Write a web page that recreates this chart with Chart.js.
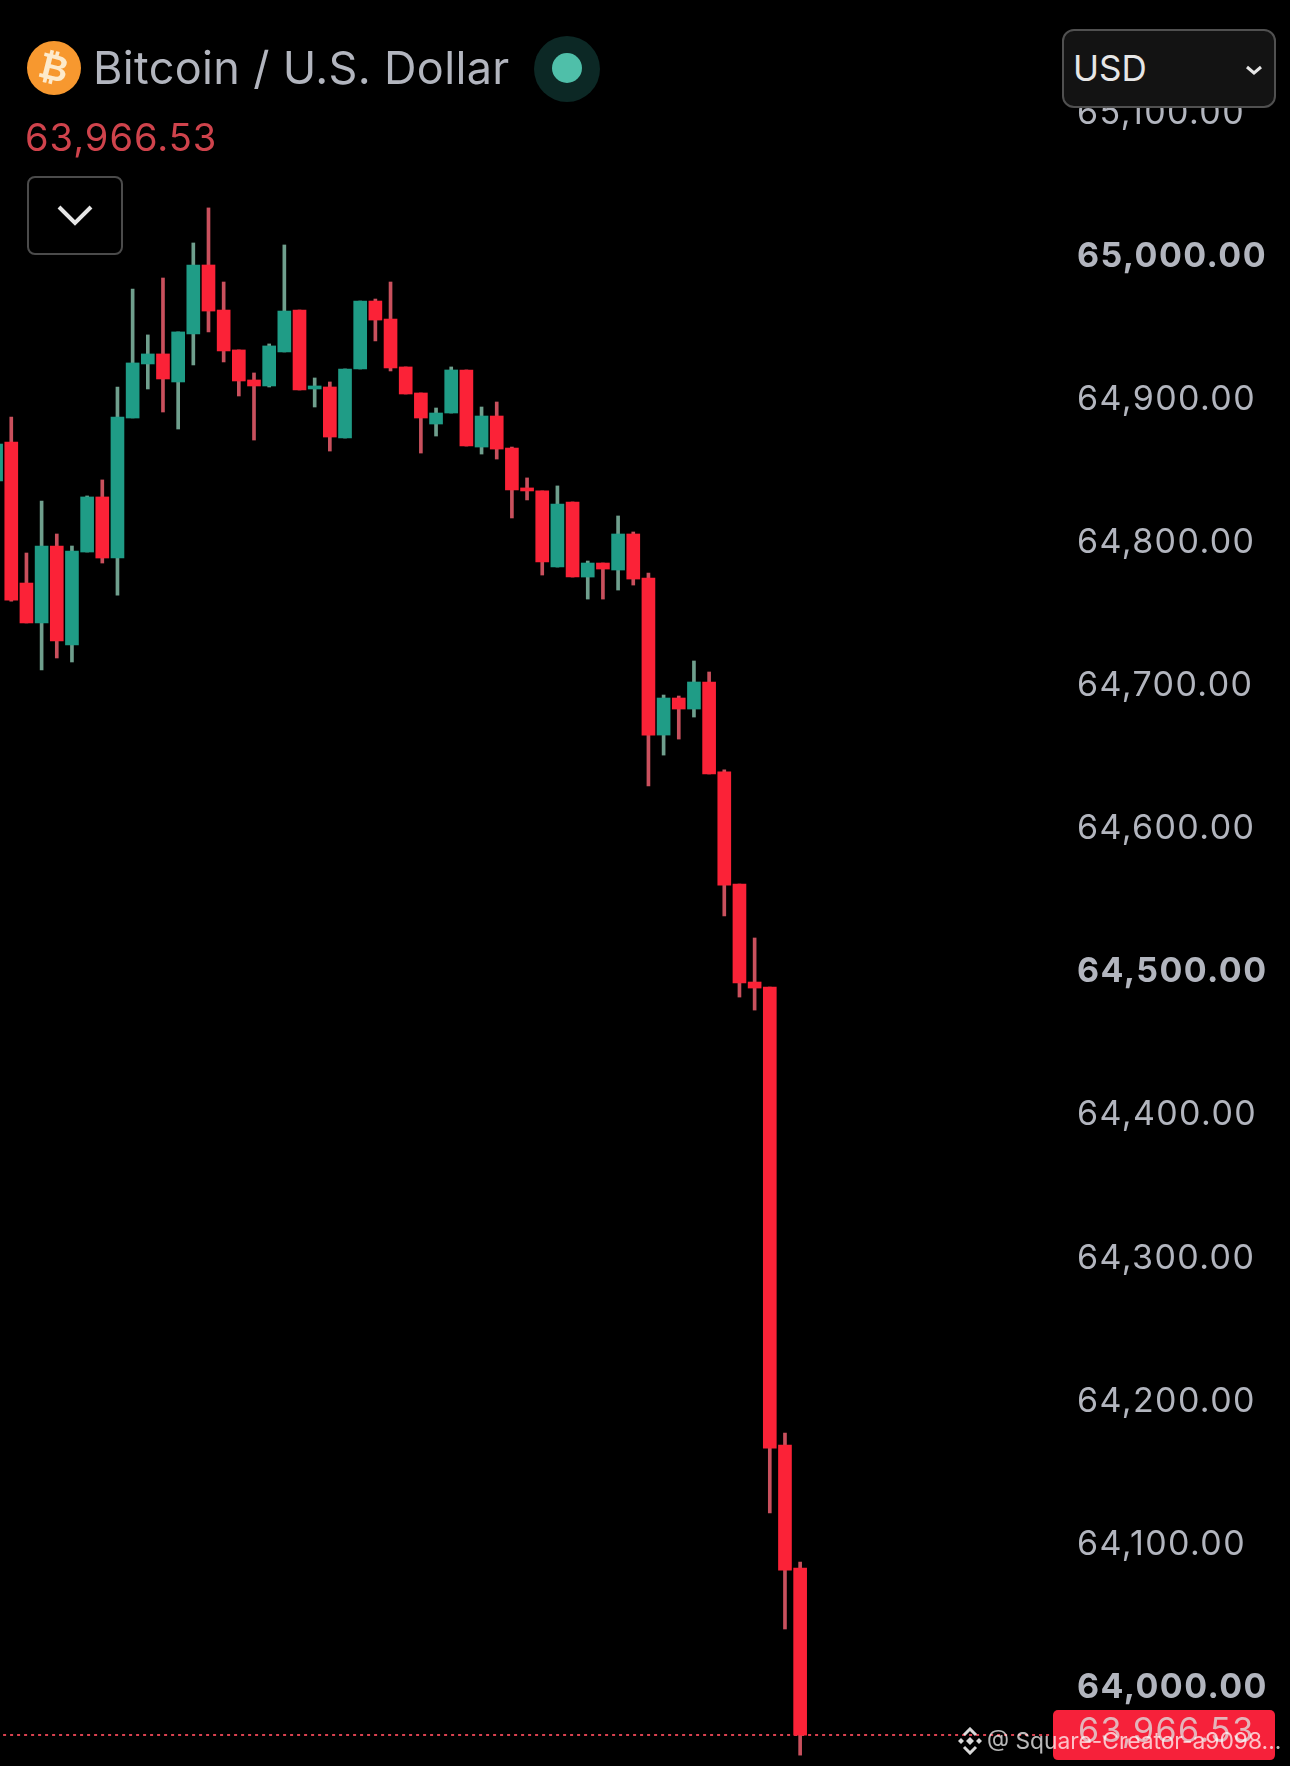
<!DOCTYPE html>
<html>
<head>
<meta charset="utf-8">
<title>Bitcoin / U.S. Dollar</title>
<script src="https://cdn.jsdelivr.net/npm/chart.js@4/dist/chart.umd.min.js"></script>
<style>
  html, body { margin: 0; padding: 0; background: #000; }
  #wrap { position: relative; width: 1290px; height: 1766px; overflow: hidden; background: #000; font-family: Inter, sans-serif; }
  canvas { position: absolute; left: 0; top: 0; }
  .abs { position: absolute; white-space: nowrap; }
  #coin { left: 27px; top: 41px; width: 54px; height: 54px; border-radius: 50%; background: #f7982f; color: #fdeacb; font: bold 36px/54px "DejaVu Sans", sans-serif; text-align: center; }
  #coin span { display: inline-block; transform: rotate(14deg); }
  #title { left: 93px; top: 41px; font-size: 45px; line-height: 54px; letter-spacing: .35px; color: #b2b5be; }
  #dotOuter { left: 534px; top: 36px; width: 66px; height: 66px; border-radius: 50%; background: #0c2825; }
  #dotInner { left: 552px; top: 53px; width: 30px; height: 30px; border-radius: 50%; background: #4fbfa9; }
  #lastPrice { left: 25px; top: 114px; font-size: 38px; line-height: 46px; letter-spacing: 1px; color: #cf434c; }
  #toggle { left: 27px; top: 176px; width: 92px; height: 75px; border: 2px solid #4b4b4b; border-radius: 8px; background: #000; }
  #currency { left: 1062px; top: 29px; width: 210px; height: 75px; border: 2px solid #505050; border-radius: 12px; background: #131313; }
  #currency b { position: absolute; left: 9px; top: 14px; font-weight: 400; font-size: 35px; line-height: 46px; color: #e6e6e6; }
  #currency svg { position: absolute; left: 181px; top: 34px; }
  #mark { left: 956px; top: 1727px; }
  #mark span { position: absolute; left: 31px; top: 0; font-size: 22.8px; line-height: 28px; color: rgba(255, 255, 255, .72); }
</style>
</head>
<body>
<div id="wrap">
  <canvas id="myChart" width="1290" height="1766"></canvas>
  <div class="abs" id="coin"><span>₿</span></div>
  <div class="abs" id="title">Bitcoin / U.S. Dollar</div>
  <div class="abs" id="dotOuter"></div>
  <div class="abs" id="dotInner"></div>
  <div class="abs" id="lastPrice">63,966.53</div>
  <div class="abs" id="toggle">
    <svg width="92" height="75"><polyline points="30,29 46,45 62,29" fill="none" stroke="#e6e6e6" stroke-width="4"/></svg>
  </div>
  <div class="abs" id="currency">
    <b>USD</b>
    <svg width="18" height="12"><polyline points="2,2 9,8 16,2" fill="none" stroke="#e6e6e6" stroke-width="3"/></svg>
  </div>
  <div class="abs" id="mark">
    <svg width="28" height="28" viewBox="0 0 28 28" fill="none" stroke="rgba(255,255,255,.85)" stroke-width="3">
      <path d="M8 8l6-6 6 6"/>
      <path d="M8 20l6 6 6-6"/>
      <path d="M5 11l3 3-3 3-3-3z" fill="rgba(255,255,255,.85)" stroke="none"/>
      <path d="M23 11l3 3-3 3-3-3z" fill="rgba(255,255,255,.85)" stroke="none"/>
      <path d="M14 10l4 4-4 4-4-4z" fill="rgba(255,255,255,.85)" stroke="none"/>
    </svg>
    <span>@ Square-Creator-a9098...</span>
  </div>
</div>

<script>
// candles, oldest first, first one is cut off by the left edge
const opens = [64842.0, 64869.2, 64770.6, 64742.7, 64796.5, 64727.3, 64792.3, 64830.8, 64788.1, 64886.0,
  64923.8, 64930.8, 64911.2, 64944.8, 64993.0, 64961.5, 64933.6, 64912.6, 64908.4, 64932.2,
  64961.5, 64906.3, 64907.7, 64872.0, 64920.3, 64967.8, 64955.2, 64921.7, 64903.5, 64881.8,
  64889.5, 64919.6, 64865.7, 64887.4, 64865.0, 64837.1, 64835.0, 64781.8, 64827.3, 64774.8,
  64784.6, 64779.7, 64804.9, 64774.1, 64664.3, 64690.2, 64682.5, 64701.4, 64638.5, 64560.1,
  64491.6, 64488.1, 64167.8, 64081.8];
const closes = [64867.8, 64758.7, 64742.7, 64796.5, 64730.1, 64793.0, 64830.8, 64788.1, 64886.7, 64924.5,
  64930.8, 64913.3, 64946.2, 64993.0, 64960.8, 64932.9, 64911.9, 64908.4, 64936.4, 64960.8,
  64905.6, 64908.4, 64872.7, 64920.3, 64967.8, 64954.5, 64921.0, 64902.8, 64886.0, 64889.5,
  64919.6, 64866.4, 64887.4, 64864.3, 64835.7, 64835.0, 64785.3, 64825.9, 64774.8, 64784.6,
  64780.4, 64804.9, 64773.4, 64664.3, 64690.2, 64682.5, 64701.4, 64637.1, 64559.4, 64490.9,
  64487.4, 64165.7, 64080.4, 63965.0];
const highs = [64867.8, 64886.7, 64791.6, 64828.0, 64804.9, 64796.5, 64831.5, 64842.7, 64907.7, 64976.2,
  64944.1, 64983.9, 64946.2, 65008.4, 65032.9, 64981.1, 64933.6, 64917.5, 64937.8, 65007.0,
  64961.5, 64914.0, 64911.2, 64920.3, 64967.8, 64969.2, 64981.1, 64921.7, 64903.5, 64893.0,
  64921.7, 64919.6, 64893.7, 64897.2, 64865.7, 64844.1, 64835.0, 64838.5, 64827.3, 64786.0,
  64784.6, 64817.5, 64806.3, 64777.6, 64692.3, 64691.6, 64716.1, 64708.4, 64639.9, 64560.1,
  64522.4, 64488.1, 64176.2, 64086.0];
const lows = [64842.0, 64758.0, 64742.7, 64709.8, 64718.2, 64715.4, 64792.3, 64784.6, 64762.2, 64886.0,
  64906.3, 64890.2, 64878.3, 64923.1, 64946.2, 64925.2, 64901.4, 64870.6, 64907.7, 64932.2,
  64905.6, 64893.7, 64862.9, 64872.0, 64920.3, 64939.9, 64918.9, 64902.8, 64861.5, 64873.4,
  64889.5, 64866.4, 64860.8, 64857.3, 64816.1, 64828.7, 64776.2, 64781.8, 64774.8, 64759.4,
  64759.4, 64765.7, 64769.2, 64628.7, 64650.3, 64661.5, 64676.9, 64637.1, 64537.8, 64481.1,
  64472.0, 64120.3, 64039.2, 63951.0];

const priceTicks = [64000, 64100, 64200, 64300, 64400, 64500, 64600, 64700, 64800, 64900, 65000, 65100];
const boldTicks = [64000, 64500, 65000];
const lastPrice = 63966.53;
// where the dotted price line sits in the picture
const priceLine = 63965.0;

const GREEN = '#1f9c86';
const RED = '#fb2237';
const GREEN_WICK = '#6f9f8d';
const RED_WICK = '#c9505d';

const isUp = (i) => closes[i] >= opens[i];
const money = (v) => v.toLocaleString('en-US', { minimumFractionDigits: 2, maximumFractionDigits: 2 });

const bodies = opens.map((o, i) => ({ x: i, y: [o, closes[i]] }));
const wicks = highs.map((h, i) => ({ x: i, y: [lows[i], h] }));

// no padding round the scales, the plot runs from edge to edge
function noPadding(scale) {
  scale.paddingLeft = 0;
  scale.paddingRight = 0;
  scale.paddingTop = 0;
  scale.paddingBottom = 0;
}

// red box with the current price, sits on the y axis
const priceTag = {
  id: 'priceTag',
  beforeDraw(chart) {
    chart.ctx.letterSpacing = '1.4px';
  },
  afterDraw(chart) {
    const ctx = chart.ctx;
    const y = chart.scales.y.getPixelForValue(priceLine);
    ctx.save();
    ctx.fillStyle = '#f6213a';
    ctx.beginPath();
    ctx.roundRect(1053, y - 25, 222, 50, 5);
    ctx.fill();
    ctx.fillStyle = '#e4b4ba';
    ctx.font = '34px Inter';
    ctx.textAlign = 'left';
    ctx.textBaseline = 'middle';
    ctx.fillText(money(lastPrice), 1078, y - 3);
    ctx.restore();
  }
};

new Chart(document.getElementById('myChart'), {
  data: {
    datasets: [
      {
        type: 'bar',
        data: bodies,
        backgroundColor: (c) => (isUp(c.dataIndex) ? GREEN : RED),
        barThickness: 13,
        grouped: false,
        borderSkipped: false,
        order: 1
      },
      {
        type: 'bar',
        data: wicks,
        backgroundColor: (c) => (isUp(c.dataIndex) ? GREEN_WICK : RED_WICK),
        barThickness: 3,
        grouped: false,
        borderSkipped: false,
        order: 2
      },
      {
        type: 'line',
        data: [{ x: 0, y: priceLine }, { x: 72, y: priceLine }],
        borderColor: '#d8414f',
        borderWidth: 2,
        borderDash: [3, 4],
        pointRadius: 0,
        order: 3
      }
    ]
  },
  options: {
    responsive: false,
    animation: false,
    layout: { padding: 0, autoPadding: false },
    plugins: { legend: { display: false }, tooltip: { enabled: false } },
    scales: {
      x: {
        type: 'linear',
        offset: false,
        min: 0.257,
        max: 71.25,
        display: false,
        afterFit: noPadding
      },
      y: {
        position: 'right',
        min: 63943.4,
        max: 65178.3,
        afterFit(scale) {
          scale.width = 213;
          noPadding(scale);
        },
        afterBuildTicks(scale) { scale.ticks = priceTicks.map((v) => ({ value: v })); },
        grid: { display: false, drawTicks: false },
        border: { display: false },
        ticks: {
          autoSkip: false,
          crossAlign: 'near',
          padding: 0,
          color: '#b2b5be',
          // empty first line + small line height pushes the text 2px down
          callback: (v) => ['', money(v)],
          font: (c) => ({
            family: 'Inter',
            size: 34,
            lineHeight: '4.5px',
            weight: boldTicks.includes(c.tick && c.tick.value) ? 'bold' : 'normal'
          })
        }
      }
    }
  },
  plugins: [priceTag]
});
</script>
</body>
</html>
